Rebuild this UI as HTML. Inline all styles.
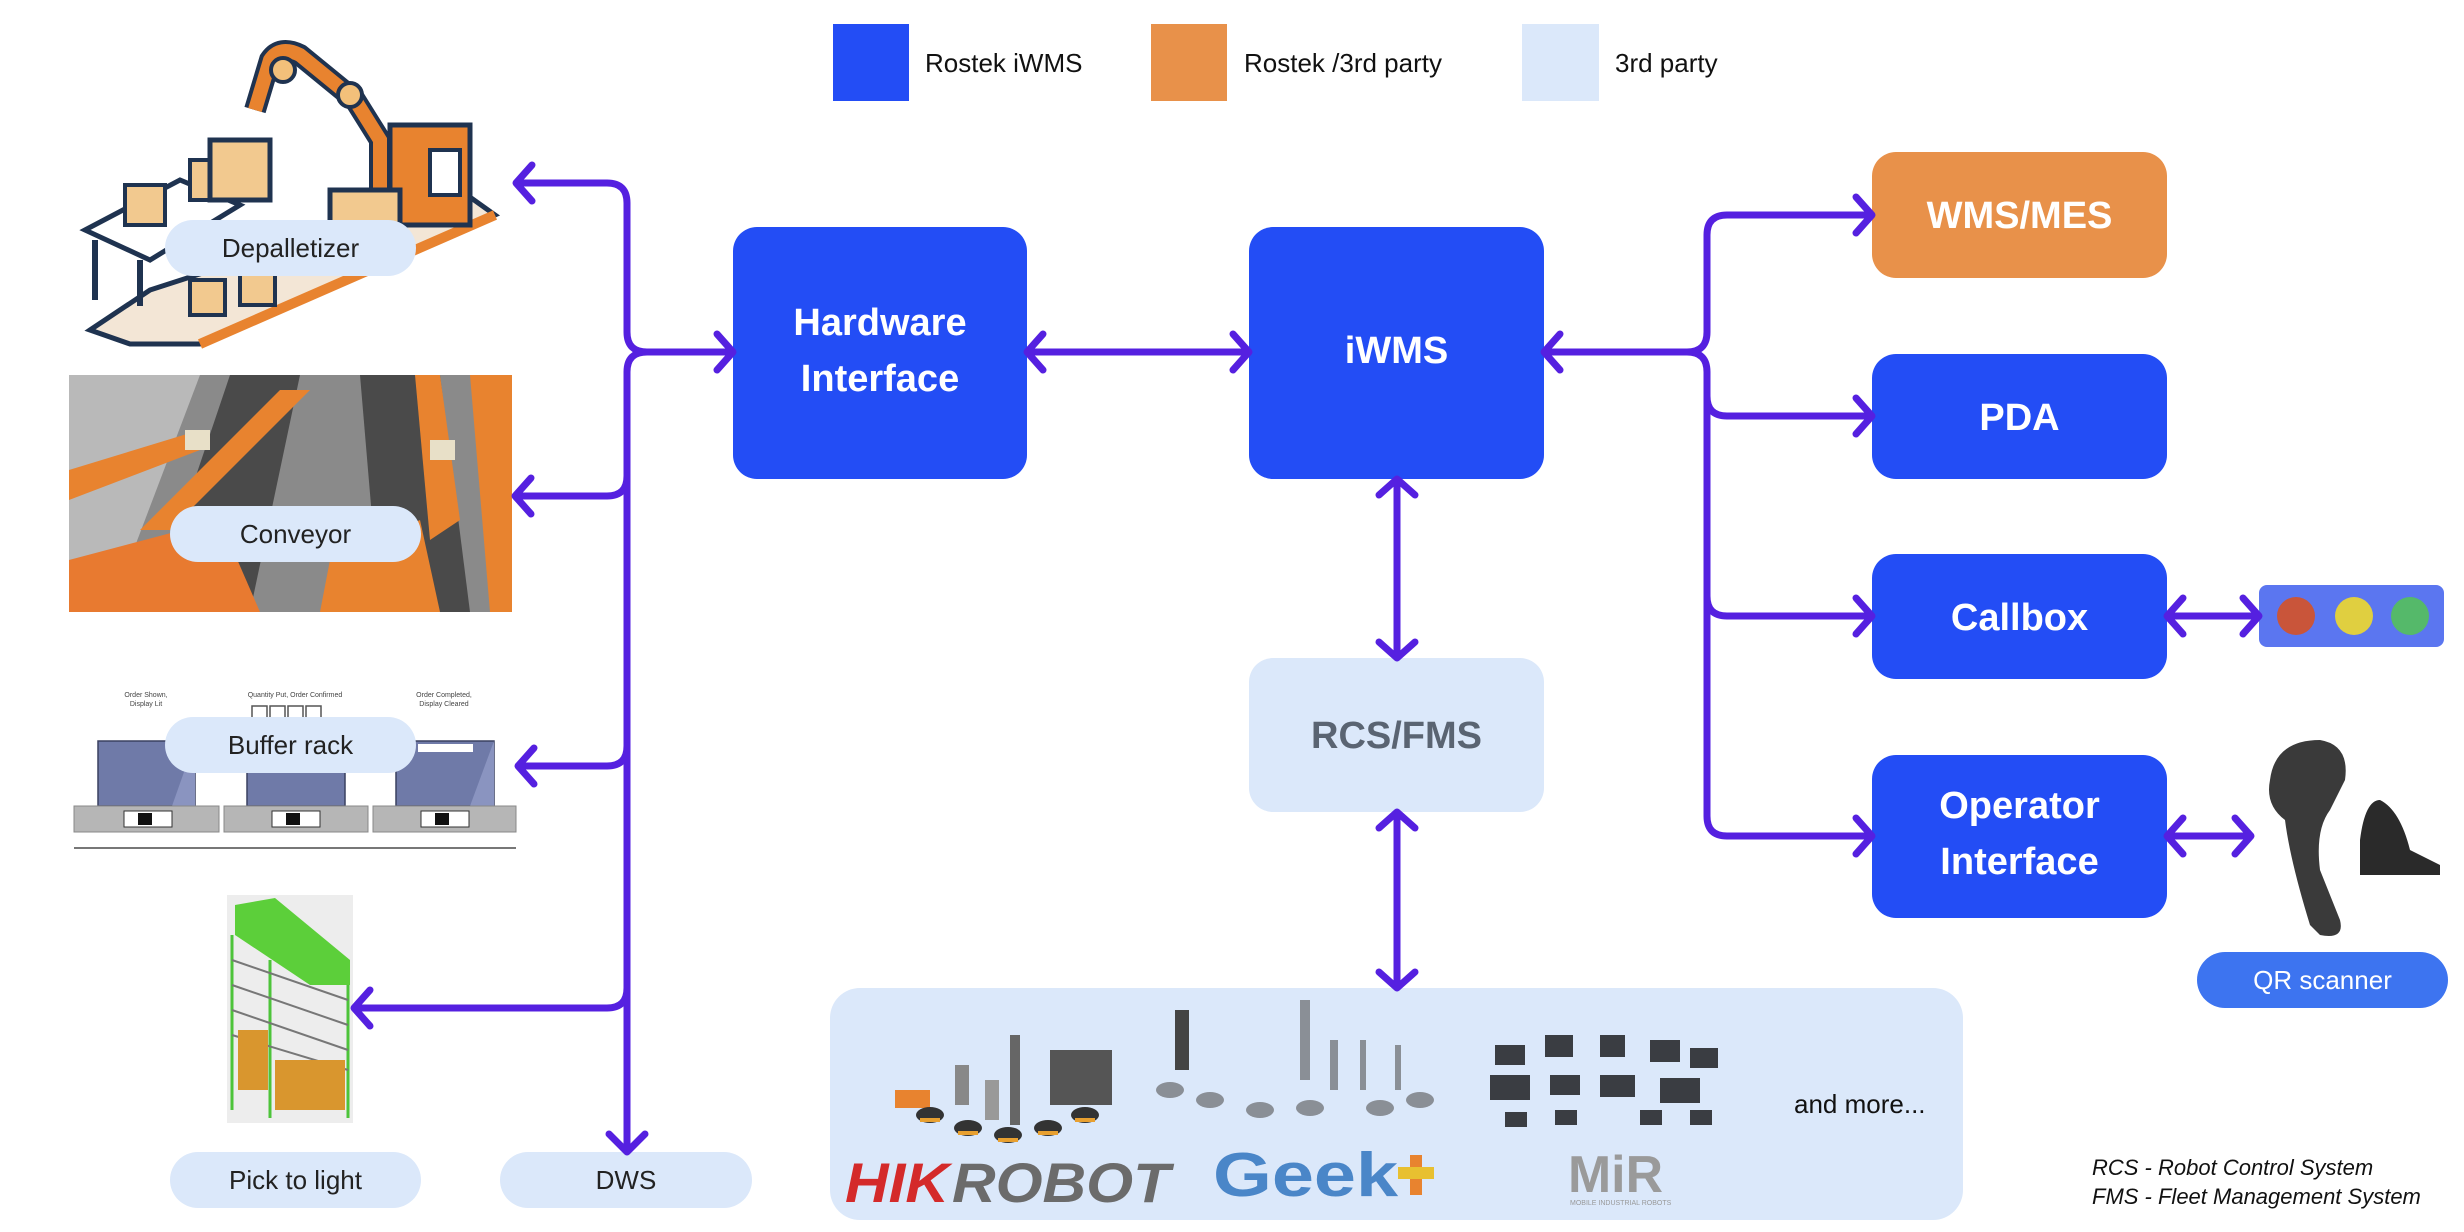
<!DOCTYPE html>
<html><head><meta charset="utf-8"><style>
html,body{margin:0;padding:0;background:#fff;}
svg{display:block;}
text{font-family:"Liberation Sans",sans-serif;}
</style></head><body>
<svg width="2464" height="1232" viewBox="0 0 2464 1232" xmlns="http://www.w3.org/2000/svg">
<!-- Legend -->
<rect x="833" y="24" width="76" height="77" fill="#234DF5"/>
<text x="925" y="72" font-size="26" fill="#111">Rostek iWMS</text>
<rect x="1151" y="24" width="76" height="77" fill="#E8914A"/>
<text x="1244" y="72" font-size="26" fill="#111">Rostek /3rd party</text>
<rect x="1522" y="24" width="77" height="77" fill="#DBE8FA"/>
<text x="1615" y="72" font-size="26" fill="#111">3rd party</text>

<!-- Depalletizer illustration -->
<g>
<polygon points="90,330 150,290 460,190 495,215 200,344 130,344" fill="#f3e6d6" stroke="#1f3350" stroke-width="5"/>
<line x1="200" y1="344" x2="495" y2="215" stroke="#E8832F" stroke-width="10"/>
<polygon points="85,230 180,180 240,205 150,260" fill="#fff" stroke="#1f3350" stroke-width="5"/>
<rect x="125" y="185" width="40" height="40" fill="#f2c98f" stroke="#1f3350" stroke-width="4"/>
<rect x="190" y="160" width="40" height="40" fill="#f2c98f" stroke="#1f3350" stroke-width="4"/>
<line x1="95" y1="240" x2="95" y2="300" stroke="#1f3350" stroke-width="6"/>
<line x1="140" y1="260" x2="140" y2="306" stroke="#1f3350" stroke-width="6"/>
<rect x="210" y="140" width="60" height="60" fill="#f2c98f" stroke="#1f3350" stroke-width="5"/>
<path d="M255 110 L270 60 Q280 45 300 55 L355 100 L380 140 L380 210" fill="none" stroke="#1f3350" stroke-width="22"/>
<path d="M255 110 L270 60 Q280 45 300 55 L355 100 L380 140 L380 210" fill="none" stroke="#E8832F" stroke-width="14"/>
<circle cx="283" cy="70" r="12" fill="#f3c07a" stroke="#1f3350" stroke-width="4"/>
<circle cx="350" cy="95" r="12" fill="#f3c07a" stroke="#1f3350" stroke-width="4"/>
<rect x="390" y="125" width="80" height="100" fill="#E8832F" stroke="#1f3350" stroke-width="5"/>
<rect x="430" y="150" width="30" height="45" fill="#fff" stroke="#1f3350" stroke-width="4"/>
<rect x="330" y="190" width="70" height="45" fill="#f2c98f" stroke="#1f3350" stroke-width="5"/>
<rect x="190" y="280" width="35" height="35" fill="#f2c98f" stroke="#1f3350" stroke-width="4"/>
<rect x="240" y="270" width="35" height="35" fill="#f2c98f" stroke="#1f3350" stroke-width="4"/>
</g>
<rect x="165" y="220" width="251" height="56" rx="28" fill="#DBE8FA"/>
<text x="290.5" y="257" font-size="26" fill="#222" text-anchor="middle">Depalletizer</text>

<!-- Conveyor photo -->
<rect x="69" y="375" width="443" height="237" fill="#8a8a8a"/>
<polygon points="69,375 200,375 110,612 69,612" fill="#b9b9b9"/>
<polygon points="230,375 300,375 250,612 150,612" fill="#4a4a4a"/>
<polygon points="360,375 440,375 470,612 380,612" fill="#4a4a4a"/>
<polygon points="280,390 310,390 170,530 140,530" fill="#E8832F"/>
<polygon points="69,470 200,430 200,450 69,500" fill="#E8832F"/>
<polygon points="415,375 440,375 460,520 430,540" fill="#E8832F"/>
<polygon points="470,375 512,375 512,612 490,612" fill="#E8832F"/>
<polygon points="69,560 220,520 260,612 69,612" fill="#E87A30"/>
<polygon points="330,560 420,520 440,612 320,612" fill="#E8832F"/>
<rect x="185" y="430" width="25" height="20" fill="#e8e0c8"/>
<rect x="430" y="440" width="25" height="20" fill="#e8e0c8"/>
<rect x="170" y="506" width="251" height="56" rx="28" fill="#DBE8FA"/>
<text x="295.5" y="543" font-size="26" fill="#222" text-anchor="middle">Conveyor</text>

<!-- Buffer rack -->
<g font-size="7" fill="#444" text-anchor="middle">
<text x="146" y="697">Order Shown,</text><text x="146" y="706">Display Lit</text>
<text x="295" y="697">Quantity Put, Order Confirmed</text>
<text x="444" y="697">Order Completed,</text><text x="444" y="706">Display Cleared</text>
</g>
<g stroke="#555" stroke-width="1.5" fill="#fff">
<rect x="252" y="706" width="15" height="12"/><rect x="270" y="706" width="15" height="12"/><rect x="288" y="706" width="15" height="12"/><rect x="306" y="706" width="15" height="12"/>
</g>
<g fill="#6F7AA8" stroke="#3a4160" stroke-width="1.5">
<polygon points="98,741 120,741 195,741 195,806 98,806"/>
<polygon points="247,741 345,741 345,806 247,806"/>
<polygon points="396,741 494,741 494,806 396,806"/>
</g>
<polygon points="195,741 172,806 195,806" fill="#8a94c0"/>
<polygon points="494,741 470,806 494,806" fill="#8a94c0"/>
<rect x="418" y="744" width="55" height="8" fill="#fff"/>
<rect x="74" y="806" width="145" height="26" fill="#b6b6b6" stroke="#888"/>
<rect x="224" y="806" width="144" height="26" fill="#b6b6b6" stroke="#888"/>
<rect x="373" y="806" width="143" height="26" fill="#b6b6b6" stroke="#888"/>
<rect x="124" y="811" width="48" height="16" fill="#fff" stroke="#333"/><rect x="138" y="813" width="14" height="12" fill="#111"/>
<rect x="272" y="811" width="48" height="16" fill="#fff" stroke="#333"/><rect x="286" y="813" width="14" height="12" fill="#111"/>
<rect x="421" y="811" width="48" height="16" fill="#fff" stroke="#333"/><rect x="435" y="813" width="14" height="12" fill="#111"/>
<line x1="74" y1="848" x2="516" y2="848" stroke="#777" stroke-width="2"/>
<rect x="165" y="717" width="251" height="56" rx="28" fill="#DBE8FA"/>
<text x="290.5" y="754" font-size="26" fill="#222" text-anchor="middle">Buffer rack</text>

<!-- Pick to light rack -->
<rect x="227" y="895" width="126" height="228" fill="#ededed"/>
<polygon points="235,905 275,898 350,960 350,985 310,985 235,935" fill="#5ccf3a"/>
<g stroke="#4dc43a" stroke-width="3" fill="none">
<line x1="232" y1="935" x2="232" y2="1110"/><line x1="270" y1="960" x2="270" y2="1118"/><line x1="348" y1="985" x2="348" y2="1118"/>
</g>
<g stroke="#777" stroke-width="2">
<line x1="232" y1="960" x2="348" y2="1000"/><line x1="232" y1="985" x2="348" y2="1025"/><line x1="232" y1="1010" x2="348" y2="1050"/><line x1="232" y1="1035" x2="348" y2="1070"/>
</g>
<rect x="275" y="1060" width="70" height="50" fill="#d9962e"/>
<rect x="238" y="1030" width="30" height="60" fill="#d9962e"/>
<rect x="170" y="1152" width="251" height="56" rx="28" fill="#DBE8FA"/>
<text x="295.5" y="1189" font-size="26" fill="#222" text-anchor="middle">Pick to light</text>

<rect x="500" y="1152" width="252" height="56" rx="28" fill="#DBE8FA"/>
<text x="626" y="1189" font-size="26" fill="#222" text-anchor="middle">DWS</text>

<!-- Main nodes -->
<g font-weight="bold" fill="#fff" text-anchor="middle" font-size="38">
<rect x="733" y="227" width="294" height="252" rx="24" fill="#234DF5"/>
<text x="880" y="335">Hardware</text>
<text x="880" y="391">Interface</text>
<rect x="1249" y="227" width="295" height="252" rx="24" fill="#234DF5"/>
<text x="1396.5" y="363">iWMS</text>
<rect x="1872" y="152" width="295" height="126" rx="24" fill="#E8914A"/>
<text x="2019.5" y="228">WMS/MES</text>
<rect x="1872" y="354" width="295" height="125" rx="24" fill="#234DF5"/>
<text x="2019.5" y="430">PDA</text>
<rect x="1872" y="554" width="295" height="125" rx="24" fill="#234DF5"/>
<text x="2019.5" y="630">Callbox</text>
<rect x="1872" y="755" width="295" height="163" rx="24" fill="#234DF5"/>
<text x="2019.5" y="818">Operator</text>
<text x="2019.5" y="874">Interface</text>
<rect x="1249" y="658" width="295" height="154" rx="24" fill="#DBE8FA"/>
<text x="1396.5" y="748" fill="#5A6472">RCS/FMS</text>
</g>

<!-- Traffic light -->
<rect x="2259" y="585" width="185" height="62" rx="8" fill="#5B76F0"/>
<circle cx="2296" cy="616" r="19" fill="#C9553A"/>
<circle cx="2354" cy="616" r="19" fill="#E0CF40"/>
<circle cx="2410" cy="616" r="19" fill="#55B96A"/>

<!-- Scanner -->
<path d="M2270 780 Q2275 740 2320 740 Q2350 745 2345 780 L2330 810 Q2315 830 2320 870 L2340 920 Q2345 940 2320 935 L2310 925 Q2290 860 2285 820 Q2265 805 2270 780Z" fill="#3a3a3a"/>
<path d="M2360 840 Q2365 800 2380 800 Q2400 810 2410 850 L2440 865 L2440 875 L2360 875Z" fill="#2a2a2a"/>
<rect x="2197" y="952" width="251" height="56" rx="28" fill="#3D74F0"/>
<text x="2322.5" y="989" font-size="26" fill="#fff" text-anchor="middle">QR scanner</text>

<!-- Robots panel -->
<rect x="830" y="988" width="1133" height="232" rx="30" fill="#DBE8FA"/>
<g>
<rect x="895" y="1090" width="35" height="18" fill="#E8832F"/>
<rect x="1050" y="1050" width="62" height="55" fill="#555"/>
<rect x="1010" y="1035" width="10" height="90" fill="#666"/>
<rect x="955" y="1065" width="14" height="40" fill="#888"/>
<rect x="985" y="1080" width="14" height="40" fill="#999"/>
<g fill="#333"><ellipse cx="930" cy="1115" rx="14" ry="8"/><ellipse cx="968" cy="1128" rx="14" ry="8"/><ellipse cx="1008" cy="1135" rx="14" ry="8"/><ellipse cx="1048" cy="1128" rx="14" ry="8"/><ellipse cx="1085" cy="1115" rx="14" ry="8"/></g>
<g fill="#E8A030"><rect x="920" y="1118" width="20" height="4"/><rect x="958" y="1131" width="20" height="4"/><rect x="998" y="1138" width="20" height="4"/><rect x="1038" y="1131" width="20" height="4"/><rect x="1075" y="1118" width="20" height="4"/></g>
</g>
<g fill="#8a8f96">
<rect x="1175" y="1010" width="14" height="60" fill="#444"/><rect x="1300" y="1000" width="10" height="80"/>
<rect x="1330" y="1040" width="8" height="50"/><rect x="1360" y="1040" width="6" height="50"/><rect x="1395" y="1045" width="6" height="45"/>
<ellipse cx="1170" cy="1090" rx="14" ry="8"/><ellipse cx="1210" cy="1100" rx="14" ry="8"/><ellipse cx="1260" cy="1110" rx="14" ry="8"/><ellipse cx="1310" cy="1108" rx="14" ry="8"/><ellipse cx="1380" cy="1108" rx="14" ry="8"/><ellipse cx="1420" cy="1100" rx="14" ry="8"/>
</g>
<g fill="#3a3d42">
<rect x="1495" y="1045" width="30" height="20"/><rect x="1545" y="1035" width="28" height="22"/><rect x="1600" y="1035" width="25" height="22"/><rect x="1650" y="1040" width="30" height="22"/><rect x="1690" y="1048" width="28" height="20"/>
<rect x="1490" y="1075" width="40" height="25"/><rect x="1550" y="1075" width="30" height="20"/><rect x="1600" y="1075" width="35" height="22"/><rect x="1660" y="1078" width="40" height="25"/>
<rect x="1505" y="1112" width="22" height="15"/><rect x="1555" y="1110" width="22" height="15"/><rect x="1640" y="1110" width="22" height="15"/><rect x="1690" y="1110" width="22" height="15"/>
</g>
<text x="1794" y="1113" font-size="26" fill="#111">and more...</text>
<text x="845" y="1202" font-size="56" font-weight="bold" font-style="italic" fill="#D42A2A" textLength="104" lengthAdjust="spacingAndGlyphs">HIK</text><text x="952" y="1202" font-size="56" font-weight="bold" font-style="italic" fill="#6B6B6B" textLength="218" lengthAdjust="spacingAndGlyphs">ROBOT</text>
<text x="1213" y="1196" font-size="62" font-weight="bold" fill="#4A86C8" textLength="185" lengthAdjust="spacingAndGlyphs">Geek</text>
<rect x="1410" y="1155" width="12" height="40" fill="#E8832F"/><rect x="1398" y="1167" width="36" height="12" fill="#E8C030"/>
<text x="1568" y="1192" font-size="52" font-weight="bold" fill="#9a9a9a" textLength="95" lengthAdjust="spacingAndGlyphs">MiR</text>
<text x="1570" y="1205" font-size="7" fill="#999">MOBILE INDUSTRIAL ROBOTS</text>

<!-- Footnote -->
<text x="2092" y="1175" font-size="22" font-style="italic" fill="#111">RCS - Robot Control System</text>
<text x="2092" y="1204" font-size="22" font-style="italic" fill="#111">FMS - Fleet Management System</text>

<!-- Connectors -->
<g stroke="#5520E0" stroke-width="7" fill="none" stroke-linecap="round" stroke-linejoin="round">
<path d="M520 183 H607 Q627 183 627 203 V332 Q627 352 647 352 H730"/>
<path d="M647 352 Q627 352 627 372 V1148"/>
<path d="M519 496 H607 Q627 496 627 476"/>
<path d="M521 766 H607 Q627 766 627 746"/>
<path d="M357 1008 H607 Q627 1008 627 988"/>
<path d="M1030 352 H1246"/>
<path d="M1548 352 H1687 Q1707 352 1707 332 V235 Q1707 215 1727 215 H1868"/>
<path d="M1687 352 Q1707 352 1707 372 V816 Q1707 836 1727 836 H1868"/>
<path d="M1707 396 Q1707 416 1727 416 H1868"/>
<path d="M1707 596 Q1707 616 1727 616 H1868"/>
<path d="M2170 616 H2256"/>
<path d="M2170 836 H2250"/>
<path d="M1397 482 V655"/>
<path d="M1397 815 V985"/>
<!-- arrowheads -->
<polyline points="532,165 516,183 532,201"/>
<polyline points="531,478 515,496 531,514"/>
<polyline points="534,748 518,766 534,784"/>
<polyline points="370,990 354,1008 370,1026"/>
<polyline points="609,1134 627,1152 645,1134"/>
<polyline points="717,334 733,352 717,370"/>
<polyline points="1043,334 1027,352 1043,370"/>
<polyline points="1233,334 1249,352 1233,370"/>
<polyline points="1560,334 1544,352 1560,370"/>
<polyline points="1856,197 1872,215 1856,233"/>
<polyline points="1856,398 1872,416 1856,434"/>
<polyline points="1856,598 1872,616 1856,634"/>
<polyline points="1856,818 1872,836 1856,854"/>
<polyline points="2183,598 2167,616 2183,634"/>
<polyline points="2243,598 2259,616 2243,634"/>
<polyline points="2183,818 2167,836 2183,854"/>
<polyline points="2235,818 2251,836 2235,854"/>
<polyline points="1379,495 1397,479 1415,495"/>
<polyline points="1379,642 1397,658 1415,642"/>
<polyline points="1379,828 1397,812 1415,828"/>
<polyline points="1379,972 1397,988 1415,972"/>
</g>
</svg>
</body></html>
